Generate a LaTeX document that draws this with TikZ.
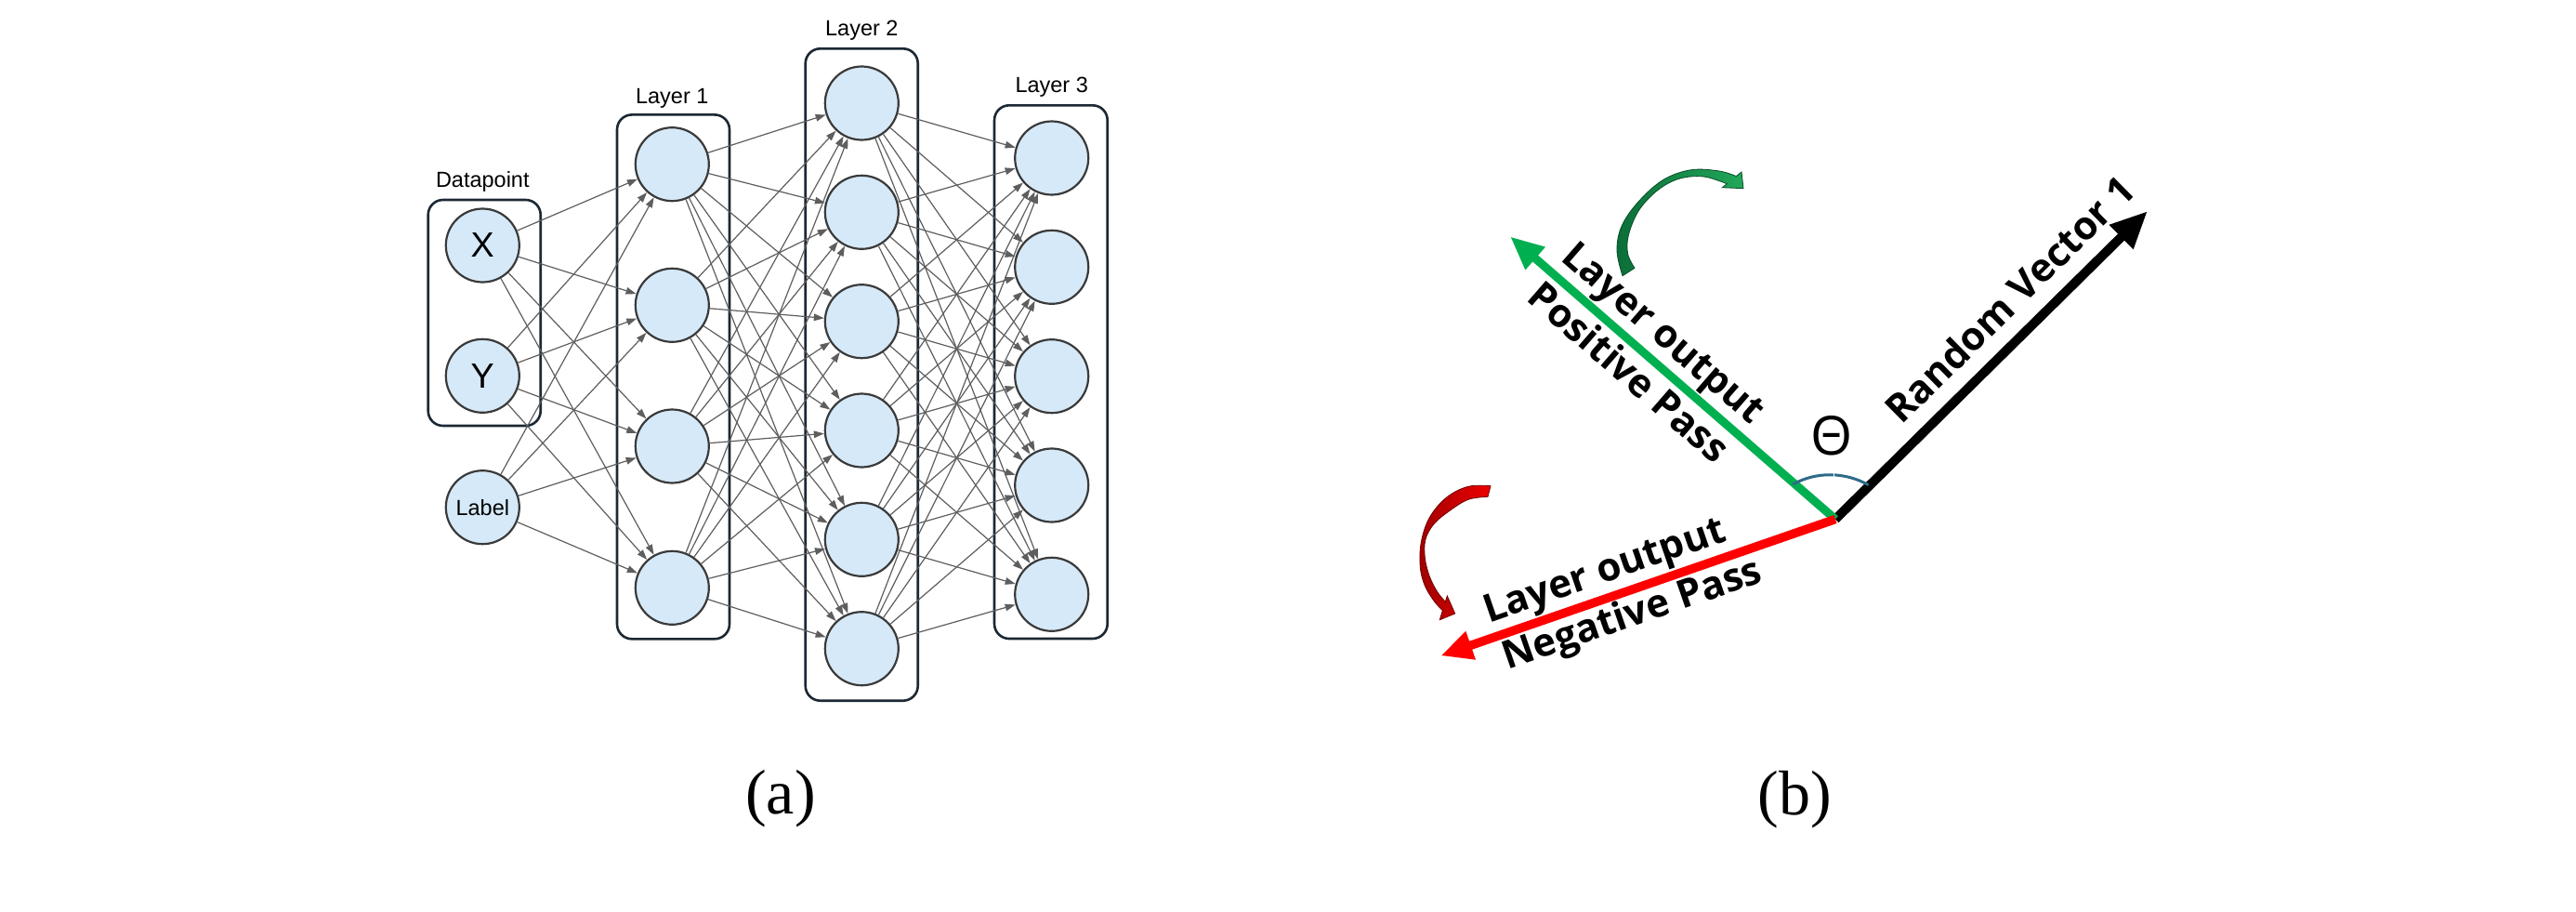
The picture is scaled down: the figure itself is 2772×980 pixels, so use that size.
\documentclass[tikz,border=0pt]{standalone}
\usepackage{fontspec}
\setmainfont{Liberation Sans}
\newfontfamily\osans{Open Sans}
\newfontfamily\tnr{Liberation Serif}
\usetikzlibrary{arrows.meta}
\definecolor{nodefill}{HTML}{D6E9F8}
\definecolor{nodeline}{HTML}{3A3A3A}
\definecolor{boxline}{HTML}{1C2833}
\definecolor{edgecol}{HTML}{5E5E5E}
\definecolor{pgreen}{HTML}{00B050}
\definecolor{arccol}{HTML}{2E6B8A}
\definecolor{cgreenA}{HTML}{0B6E38}
\definecolor{cgreenB}{HTML}{22A85A}
\definecolor{credA}{HTML}{A00000}
\definecolor{credB}{HTML}{EE0000}
\begin{document}
\begin{tikzpicture}[x=1pt,y=-1pt,
  neuron/.style={circle, draw=nodeline, fill=nodefill, line width=2.2pt, minimum size=79pt, inner sep=0pt},
  layerbox/.style={draw=boxline, line width=2.6pt, rounded corners=16pt},
  conn/.style={draw=edgecol, line width=1.2pt, -{Triangle[length=11pt,width=7.5pt]}},
  lbl/.style={font=\fontsize{23.5}{28}\selectfont, inner sep=0pt},
  big/.style={font=\fontsize{37.7}{40}\selectfont},
  btxt/.style={font=\osans\bfseries\fontsize{42}{48}\selectfont, inner sep=0pt},
  panel/.style={font=\tnr\fontsize{68}{72}\selectfont, inner sep=0pt}]
\useasboundingbox (0,0) rectangle (2772,980);
\fill[white] (0,0) rectangle (2772,980);

% ---------- panel (a) ----------
\draw[layerbox] (460.7,215) rectangle (581.7,458);
\draw[layerbox] (664,123.4) rectangle (785,687.3);
\draw[layerbox] (866.7,52.3) rectangle (987.7,753.7);
\draw[layerbox] (1070,113.3) rectangle (1191.7,687);

\node[lbl] (tdp) at (519.3,195) {Datapoint};
\node[lbl] (tl1) at (723.3,106) {Layer 1};
\node[lbl] (tl2) at (927.3,32.3) {Layer 2};
\node[lbl] (tl3) at (1131.7,93.3) {Layer 3};

\node[neuron, big] (x) at (519.3,264) {X};
\node[neuron, big] (y) at (519.3,404.3) {Y};
\node[neuron, lbl] (lab) at (519.3,545.7) {Label};

\foreach \i/\yy in {1/176.7,2/328.3,3/480,4/632.3}
  \node[neuron] (l1-\i) at (723.3,\yy) {};
\foreach \i/\yy in {1/111,2/228.3,3/345.7,4/463,5/580.3,6/697.7}
  \node[neuron] (l2-\i) at (927.3,\yy) {};
\foreach \i/\yy in {1/170,2/287.3,3/404.7,4/522,5/639.3}
  \node[neuron] (l3-\i) at (1131.7,\yy) {};

\foreach \s in {x,y,lab}
  \foreach \t in {1,...,4}
    \draw[conn] (\s) -- (l1-\t);
\foreach \s in {1,...,4}
  \foreach \t in {1,...,6}
    \draw[conn] (l1-\s) -- (l2-\t);
\foreach \s in {1,...,6}
  \foreach \t in {1,...,5}
    \draw[conn] (l2-\s) -- (l3-\t);

\node[panel] (pa) at (840,859.5) {(a)};

% ---------- panel (b) ----------
\coordinate (v) at (1975,558.5);
\coordinate (gt) at (1625,254.4);
\coordinate (bt) at (2311,227);
\coordinate (rt) at (1550.5,705.3);
\draw[black, line width=10pt, -{Triangle[length=40pt,width=34pt]}] (v) -- (bt);
\draw[pgreen, line width=9pt, -{Triangle[length=36pt,width=30pt]}] (v) -- (gt);
\draw[red, line width=9.5pt, -{Triangle[length=34pt,width=30pt]}] (v) -- (rt);

\draw[arccol, line width=3pt] (1929.3,521) .. controls (1954.6,506.9) and (1985.5,507.5) .. (2010.7,521.7);
\draw[white, line width=1pt] (1973.3,507) -- (1973.3,514.5);
\node[font=\osans\fontsize{58}{60}\selectfont, inner sep=0pt] (th) at (1971,468.3) {Θ};

\node[btxt, rotate=44.6] (rv) at (2162.4,321.4) {Random Vector 1};
\node[btxt, rotate=-41] (gl1) at (1788,360.9) {Layer output};
\node[btxt, rotate=-41] (gl2) at (1753.7,399.6) {Positive Pass};
\node[btxt, rotate=19.1] (rl1) at (1727.6,616.3) {Layer output};
\node[btxt, rotate=19.1] (rl2) at (1757,662.8) {Negative Pass};

% curved green arrow
\path[draw=cgreenA!70!black, line width=0.8pt, left color=cgreenA, right color=cgreenB]
  plot[smooth, tension=0.6] coordinates {(1746,296.7) (1740,270) (1745,243.3) (1763.3,216.7) (1790,193.3) (1820,182.7) (1850,184) (1868.3,189.6)}
  -- (1874,185) -- (1876,202.7) -- (1853.3,201.7) -- (1858.3,197.7)
  -- plot[smooth, tension=0.6] coordinates {(1858.3,197.7) (1833.3,190) (1806.7,192.3) (1783.3,205) (1763.3,226.7) (1752.3,253.3) (1751.7,273.3) (1759,288.3)}
  -- cycle;

% curved red arrow
\path[draw=credA!70!black, line width=0.8pt, left color=credA, right color=credB]
  plot[smooth, tension=0.6] coordinates {(1604,522.7) (1580,523.3) (1556.7,535) (1538.3,556.7) (1529.3,583.3) (1528.3,610) (1533.3,630) (1543.3,646.7) (1552.3,656.7)}
  -- (1549.3,666.7) -- (1565.7,660) -- (1557.3,641) -- (1555.3,647.3)
  -- plot[smooth, tension=0.6] coordinates {(1555.3,647.3) (1546.7,636.7) (1538.3,620) (1533.3,600) (1534,580) (1543.3,563.3) (1560,549.3) (1580,537.3) (1601,534.3)}
  -- cycle;

\node[panel] (pb) at (1931,860) {(b)};
\end{tikzpicture}
\end{document}
